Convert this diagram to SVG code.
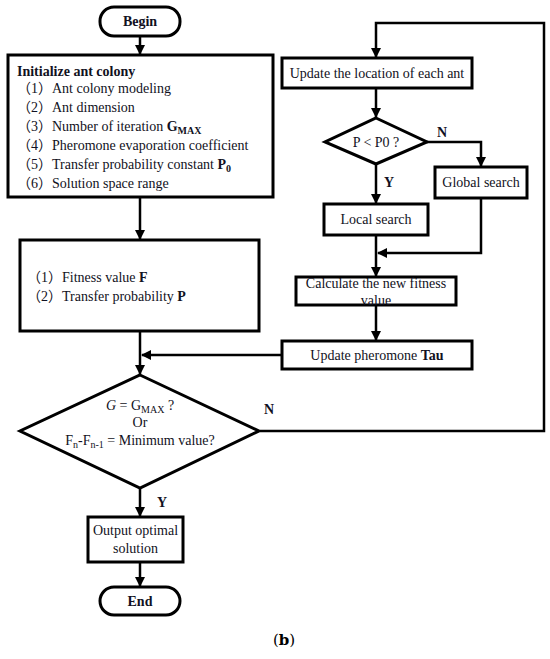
<svg xmlns="http://www.w3.org/2000/svg" width="550" height="659" viewBox="0 0 550 659">
<defs>
<marker id="ah" viewBox="0 0 10 10" refX="9" refY="5" markerWidth="4" markerHeight="4" orient="auto" markerUnits="strokeWidth">
<path d="M0,0 L10,5 L0,10 z" fill="#000"/>
</marker>
</defs>
<style>
text{font-family:"Liberation Serif","Times New Roman",serif;font-size:14px;fill:#111122}
.cj{font-family:"Liberation Serif","Noto Sans CJK SC",serif}
.b{font-weight:bold}
.box{fill:#fff;stroke:#000;stroke-width:3}
.ln{fill:none;stroke:#000;stroke-width:2.5}
.c{text-anchor:middle}
.sub{font-size:10px}
</style>
<rect width="550" height="659" fill="#fff"/>
<g id="connectors">
<line class="ln" x1="140" y1="36" x2="140" y2="54" marker-end="url(#ah)"/>
<line class="ln" x1="140" y1="198" x2="140" y2="239" marker-end="url(#ah)"/>
<line class="ln" x1="140" y1="332" x2="140" y2="374" marker-end="url(#ah)"/>
<line class="ln" x1="282" y1="355" x2="142" y2="355" marker-end="url(#ah)"/>
<line class="ln" x1="140" y1="489" x2="140" y2="516" marker-end="url(#ah)"/>
<line class="ln" x1="140" y1="563" x2="140" y2="586" marker-end="url(#ah)"/>
<polyline class="ln" points="260,431 544,431 544,23 376,23 376,57" marker-end="url(#ah)"/>
<line class="ln" x1="376" y1="89" x2="376" y2="117" marker-end="url(#ah)"/>
<polyline class="ln" points="427,142 481,142 481,166" marker-end="url(#ah)"/>
<line class="ln" x1="376" y1="165" x2="376" y2="203" marker-end="url(#ah)"/>
<polyline class="ln" points="481,199 481,253 378,253" marker-end="url(#ah)"/>
<line class="ln" x1="376" y1="236" x2="376" y2="276" marker-end="url(#ah)"/>
<line class="ln" x1="376" y1="306" x2="376" y2="340" marker-end="url(#ah)"/>
<text class="b" x="437" y="137" font-size="12">N</text>
<text class="b" x="384" y="187" font-size="12">Y</text>
<text class="b" x="264" y="414" font-size="12">N</text>
<text class="b" x="157" y="507" font-size="12">Y</text>
</g>
<g id="begin">
<rect class="box" x="100" y="7" width="80" height="29" rx="14" stroke-width="2.5"/>
<text class="b c" x="140" y="26">Begin</text>
</g>
<g id="init">
<rect class="box" x="8" y="55" width="265" height="142"/>
<text class="b" x="17" y="76">Initialize ant colony</text>
<text class="cj" x="17" y="93">（1）Ant colony modeling</text>
<text class="cj" x="17" y="112">（2）Ant dimension</text>
<text class="cj" x="17" y="131">（3）Number of iteration <tspan class="b">G</tspan><tspan class="b sub" dy="3">MAX</tspan></text>
<text class="cj" x="17" y="150">（4）Pheromone evaporation coefficient</text>
<text class="cj" x="17" y="169">（5）Transfer probability constant <tspan class="b">P</tspan><tspan class="b sub" dy="3">0</tspan></text>
<text class="cj" x="17" y="188">（6）Solution space range</text>
</g>
<g id="fitness">
<rect class="box" x="20" y="240" width="239" height="91"/>
<text class="cj" x="27" y="282">（1）Fitness value <tspan class="b">F</tspan></text>
<text class="cj" x="27" y="301">（2）Transfer probability <tspan class="b">P</tspan></text>
</g>
<g id="check">
<polygon class="box" points="140,375 259,431 140,488 20,431"/>
<text class="c" x="140" y="410"><tspan font-style="italic">G</tspan> = G<tspan class="sub" dy="3">MAX</tspan><tspan dy="-3"> ?</tspan></text>
<text class="c" x="140" y="427">Or</text>
<text class="c" x="140" y="445">F<tspan class="sub" dy="3">n</tspan><tspan dy="-3">-F</tspan><tspan class="sub" dy="3">n-1</tspan><tspan dy="-3">  = Minimum value?</tspan></text>
</g>
<g id="output">
<rect class="box" x="88" y="517" width="95" height="45"/>
<text class="c" x="135.5" y="535">Output optimal</text>
<text class="c" x="135.5" y="553">solution</text>
</g>
<g id="end">
<rect class="box" x="100" y="587" width="80" height="28" rx="14" stroke-width="2.5"/>
<text class="b c" x="140" y="606">End</text>
</g>
<g id="update-location">
<rect class="box" x="282" y="58" width="190" height="30"/>
<text class="c" x="377" y="78">Update the location of each ant</text>
</g>
<g id="p-check">
<polygon class="box" points="376,118 427,142 376,164 325,142"/>
<text class="c" x="376" y="147">P &lt; P0 ?</text>
</g>
<g id="global">
<rect class="box" x="435" y="167" width="92" height="31"/>
<text class="c" x="481" y="187">Global search</text>
</g>
<g id="local">
<rect class="box" x="324" y="204" width="104" height="31"/>
<text class="c" x="376" y="224">Local search</text>
</g>
<g id="calc">
<rect class="box" x="296" y="277" width="160" height="28"/>
<text class="c" x="376" y="288">Calculate the new fitness</text>
<text class="c" x="376" y="305">value</text>
</g>
<g id="pheromone">
<rect class="box" x="282" y="341" width="190" height="28"/>
<text class="c" x="377" y="360">Update pheromone <tspan class="b">Tau</tspan></text>
</g>
<text x="284" y="645" class="c" style="font-family:'DejaVu Serif',serif;font-size:15px;fill:#000">(<tspan font-weight="bold">b</tspan>)</text>
</svg>
